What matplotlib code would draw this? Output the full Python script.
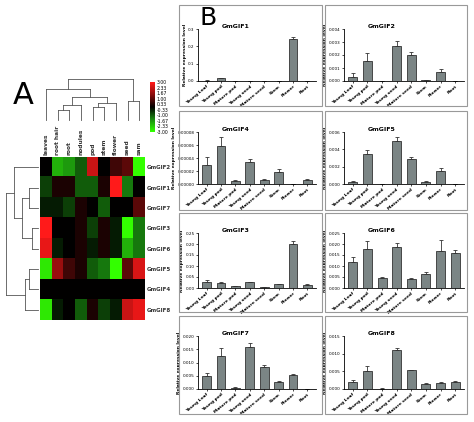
import numpy as np
import matplotlib
matplotlib.use("Agg")
import matplotlib.pyplot as plt
from matplotlib.colors import LinearSegmentedColormap
from matplotlib.patches import Rectangle

W, H = 474, 422

# ---- heatmap data (panel A) ----
hm_cols = ["leaves", "root hair", "root", "nodules", "pod", "stem", "flower", "seed", "sam"]
hm_rows = ["GmGIF2", "GmGIF1", "GmGIF7", "GmGIF3", "GmGIF6", "GmGIF5", "GmGIF4", "GmGIF8"]
hm_vals = np.array([
    [0.0, -2.0, -1.7, -1.0, 2.3, 0.0, 0.7, 1.0, -3.0],
    [-0.7, 0.3, 0.3, -1.0, -1.0, 0.3, 3.0, -1.3, 0.0],
    [-0.3, -0.3, -0.7, 0.3, 0.0, -1.0, 0.0, 0.0, 1.0],
    [3.0, 0.0, 0.0, 0.3, -0.7, 0.3, -0.3, -3.0, -1.3],
    [2.7, -0.3, 0.0, 0.3, -0.3, 0.3, -0.3, -2.0, -1.3],
    [-2.7, 1.7, 0.7, 0.3, -1.0, -1.3, -3.0, 1.0, 2.5],
    [0.0, 0.0, 0.0, 0.0, 0.0, 0.0, 0.0, 0.0, 0.0],
    [-2.7, -0.3, 0.0, -1.0, 0.3, -0.7, -0.3, 2.3, 2.7],
])
cbar_ticks = [3.00, 2.33, 1.67, 1.00, 0.33, -0.33, -1.00, -1.67, -2.33, -3.00]

# dendrogram merges: (left node, right node, height); leaves are indices,
# merged nodes are numbered n, n+1, ...
col_merges = [(1, 2, 0.25), (9, 3, 0.35), (4, 5, 0.3), (11, 6, 0.4),
              (10, 12, 0.55), (7, 8, 0.45), (0, 13, 0.75), (15, 14, 1.0)]
row_merges = [(1, 2, 0.3), (3, 4, 0.2), (8, 9, 0.5), (0, 10, 0.75),
              (5, 6, 0.3), (12, 7, 0.4), (11, 13, 1.0)]

# ---- bar data (panel B) ----
tissues = ["Young Leaf", "Young pod", "Mature pod", "Young seed",
           "Mature seed", "Stem", "Flower", "Root"]
gif1 = [0.002, 0.015, 0, 0.001, 0, 0.001, 0.24, 0.001]
gif1_err = [0.001, 0.004, 0, 0, 0, 0, 0.012, 0]
gif2 = [0.0003, 0.00155, 0, 0.0027, 0.002, 0.00008, 0.0007, 0]
gif2_err = [0.0003, 0.0006, 0, 0.00035, 0.00025, 0.00002, 0.00025, 0]
gif4 = [0.000029, 0.000058, 0.000004, 0.000034, 0.000006, 0.000018, 0, 0.000006]
gif4_err = [0.000013, 0.000015, 0.000002, 0.000004, 0.000002, 0.000005, 0, 0.000001]
gif5 = [0.0002, 0.0035, 0, 0.005, 0.0029, 0.0002, 0.0015, 0]
gif5_err = [0.0001, 0.0004, 0, 0.0004, 0.0002, 0.0001, 0.0003, 0]
gif3 = [0.028, 0.025, 0.007, 0.027, 0.004, 0.016, 0.2, 0.014]
gif3_err = [0.007, 0.003, 0.001, 0.002, 0.001, 0.003, 0.015, 0.002]
gif6 = [0.012, 0.0178, 0.0045, 0.0185, 0.0043, 0.0063, 0.0167, 0.0157]
gif6_err = [0.0023, 0.0035, 0.0003, 0.002, 0.0003, 0.001, 0.005, 0.0015]
gif7 = [0.005, 0.0125, 0.0004, 0.016, 0.0083, 0.0026, 0.0052, 0.0001]
gif7_err = [0.001, 0.003, 0.0002, 0.0012, 0.0008, 0.0003, 0.0003, 0]
gif8 = [0.0019, 0.0052, 0.0001, 0.0111, 0.0053, 0.0013, 0.0017, 0.0019]
gif8_err = [0.0006, 0.0014, 0.0001, 0.0006, 0.0001, 0.0004, 0.0002, 0.0005]

panels = [
    ("GmGIF1", gif1, gif1_err, 0.3, 0.1, "{:.1f}"),
    ("GmGIF2", gif2, gif2_err, 0.004, 0.001, "{:.3f}"),
    ("GmGIF4", gif4, gif4_err, 0.00008, 0.00002, "{:.5f}"),
    ("GmGIF5", gif5, gif5_err, 0.006, 0.002, "{:.3f}"),
    ("GmGIF3", gif3, gif3_err, 0.25, 0.05, "{:.2f}"),
    ("GmGIF6", gif6, gif6_err, 0.025, 0.005, "{:.3f}"),
    ("GmGIF7", gif7, gif7_err, 0.02, 0.005, "{:.3f}"),
    ("GmGIF8", gif8, gif8_err, 0.015, 0.005, "{:.3f}"),
]

fig = plt.figure(figsize=(W / 100, H / 100), dpi=100)


def px(x0, y0, x1, y1):
    """pixel box (top-left origin) -> figure fraction rect"""
    return [x0 / W, 1 - y1 / H, (x1 - x0) / W, (y1 - y0) / H]


def dendro_lines(merges, n):
    pos = {i: i for i in range(n)}
    hgt = {i: 0.0 for i in range(n)}
    segs = []
    for k, (a, b, h) in enumerate(merges):
        segs.append(((pos[a], hgt[a]), (pos[a], h)))
        segs.append(((pos[b], hgt[b]), (pos[b], h)))
        segs.append(((pos[a], h), (pos[b], h)))
        pos[n + k] = (pos[a] + pos[b]) / 2
        hgt[n + k] = h
    return segs


cmap = LinearSegmentedColormap.from_list(
    "gbr", ["#33ff00", "#1a8a10", "#000000", "#8a0d0d", "#ff1a1a"])

# heatmap
hx0, hx1 = 40, 145
ax_hm = fig.add_axes(px(hx0, 157, hx1, 320))
ax_hm.imshow(hm_vals, cmap=cmap, vmin=-3, vmax=3, aspect="auto",
             interpolation="nearest")
ax_hm.set_xticks(range(len(hm_cols)))
ax_hm.set_xticklabels(hm_cols, rotation=90, fontsize=4.2, fontweight="bold",
                      color="#333333")
ax_hm.xaxis.tick_top()
ax_hm.set_yticks(range(len(hm_rows)))
ax_hm.set_yticklabels(hm_rows, fontsize=4, fontweight="bold", color="#333333")
ax_hm.yaxis.tick_right()
ax_hm.tick_params(length=0, pad=1.5)
for s in ax_hm.spines.values():
    s.set_visible(False)

# column dendrogram
ax_cd = fig.add_axes(px(hx0, 78, hx1, 132))
for (x0, y0), (x1, y1) in dendro_lines(col_merges, len(hm_cols)):
    ax_cd.plot([x0, x1], [y0, y1], color="#555555", lw=0.6)
ax_cd.set_xlim(-0.5, len(hm_cols) - 0.5)
ax_cd.set_ylim(-0.3, 1.02)
ax_cd.axis("off")

# row dendrogram
ax_rd = fig.add_axes(px(5, 157, hx0, 320))
for (y0, x0), (y1, x1) in dendro_lines(row_merges, len(hm_rows)):
    ax_rd.plot([x0, x1], [y0, y1], color="#555555", lw=0.6)
ax_rd.set_ylim(len(hm_rows) - 0.5, -0.5)
ax_rd.set_xlim(1.02, -0.05)
ax_rd.axis("off")

# colour bar
ax_cb = fig.add_axes(px(150, 82, 155, 132))
ax_cb.imshow(np.linspace(3, -3, 60)[:, None], cmap=cmap, vmin=-3, vmax=3,
             aspect="auto", extent=[0, 1, -3, 3])
ax_cb.set_xticks([])
ax_cb.yaxis.tick_right()
ax_cb.set_yticks(cbar_ticks)
ax_cb.set_yticklabels([f"{t:.2f}" for t in cbar_ticks], fontsize=3.3)
ax_cb.tick_params(length=0, pad=1)
for s in ax_cb.spines.values():
    s.set_visible(False)

fig.text(13 / W, 1 - 95 / H, "A", fontsize=22, va="center")
fig.text(200 / W, 1 - 18 / H, "B", fontsize=18, va="center")

# bar panels
boxes_y = [(5, 106, 29, 81), (111, 210, 132, 184),
           (213, 312, 233, 288), (316, 414, 336, 389)]
boxes_x = [(179, 322, 198, 316), (325, 467, 344, 464)]
x = np.arange(len(tissues))
for i, (name, vals, err, ymax, step, fmt) in enumerate(panels):
    by0, by1, ay0, ay1 = boxes_y[i // 2]
    bx0, bx1, ax0, ax1 = boxes_x[i % 2]
    fig.patches.append(Rectangle((bx0 / W, 1 - by1 / H), (bx1 - bx0) / W,
                                 (by1 - by0) / H, transform=fig.transFigure,
                                 fill=False, ec="#999999", lw=0.8))
    ax = fig.add_axes(px(ax0, ay0, ax1, ay1))
    ax.bar(x, vals, width=0.62, color="#7b8585", edgecolor="#333333", lw=0.6,
           yerr=[np.zeros(len(err)), err],
           error_kw=dict(ecolor="#333333", elinewidth=0.6, capsize=1.5,
                         capthick=0.6))
    ax.set_xlim(-0.6, len(tissues) - 0.4)
    ax.set_ylim(0, ymax)
    ticks = np.arange(0, ymax + step / 2, step)
    ax.set_yticks(ticks)
    ax.set_yticklabels([fmt.format(t) for t in ticks], fontsize=3)
    ax.set_xticks(x)
    ax.set_xticklabels(tissues, rotation=40, ha="right", rotation_mode="anchor",
                       fontsize=3.2, fontweight="bold")
    ax.tick_params(length=1.5, width=0.5, pad=1)
    ax.set_ylabel("Relative expression level", fontsize=3.2, fontweight="bold",
                  labelpad=1)
    for s in ("top", "right"):
        ax.spines[s].set_visible(False)
    for s in ("left", "bottom"):
        ax.spines[s].set_linewidth(0.6)
    ax.text(0.2, 1.0, name, transform=ax.transAxes, fontsize=4.5,
            fontweight="bold", va="bottom")

fig.savefig("out.png", dpi=100)
